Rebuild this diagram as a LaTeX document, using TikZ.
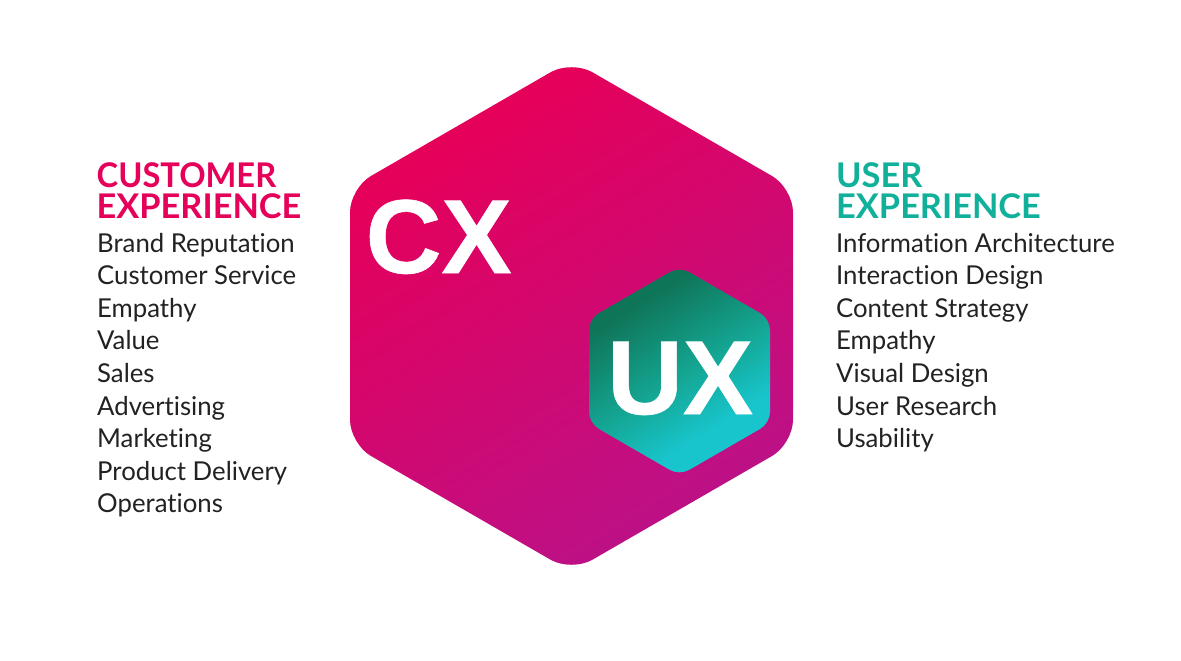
\documentclass[tikz,border=0pt]{standalone}
\usepackage{fontspec}
\setmainfont{Lato}
\newfontfamily\logofont{Liberation Sans}[BoldFeatures={FakeBold=0.6}]
\newfontfamily\bodyfont{Lato}[Ligatures=NoCommon,FakeStretch=0.99]
\newfontfamily\headfont{Lato}[Ligatures=NoCommon,FakeStretch=1.01]
\newfontfamily\headnarrowfont{Lato}[Ligatures=NoCommon,FakeStretch=0.96]
\definecolor{cxpink}{HTML}{E5005A}
\definecolor{cxpurple}{HTML}{B9128A}
\definecolor{uxteal}{HTML}{10B09B}
\definecolor{bodyink}{HTML}{222222}
\pgfdeclarehorizontalshading{cxshade}{100bp}{color(0bp)=(cxpink);color(28bp)=(cxpink);color(77bp)=(cxpurple);color(100bp)=(cxpurple)}
\definecolor{uxdark}{HTML}{0F7558}
\definecolor{uxmid}{HTML}{14A592}
\definecolor{uxbright}{HTML}{18C5CC}
\definecolor{uxsliver}{HTML}{18A98F}
\pgfdeclarehorizontalshading{uxshade}{100bp}{color(0bp)=(uxdark);color(30bp)=(uxdark);color(51bp)=(uxmid);color(67bp)=(uxbright);color(100bp)=(uxbright)}
\tikzset{
  head/.style={anchor=base west,inner sep=0pt,font=\headfont\bfseries\fontsize{34}{34}\selectfont},
  headnarrow/.style={head,font=\headnarrowfont\bfseries\fontsize{34}{34}\selectfont},
  body/.style={anchor=base west,inner sep=0pt,text=bodyink,font=\bodyfont\fontsize{26}{26}\selectfont},
  logo/.style={anchor=base west,inner sep=0pt,text=white,font=\logofont\bfseries\fontsize{105}{105}\selectfont}
}
\begin{document}
\begin{tikzpicture}[x=1pt,y=-1pt]
\useasboundingbox (0,0) rectangle (1181,661);
\fill[white] (0,0) rectangle (1181,661);
% big hexagon
\path[shading=cxshade,shading angle=-58,rounded corners=24pt]
  (571.5,60.2) -- (793,188.1) -- (793,443.9) -- (571.5,571.8) -- (350,443.9) -- (350,188.1) -- cycle;
% small hexagon
\path[shading=uxshade,shading angle=-58,rounded corners=11pt]
  (679.5,266.5) -- (770,318.8) -- (770,423.2) -- (679.5,475.5) -- (589,423.2) -- (589,318.8) -- cycle;
\begin{scope}
\clip[rounded corners=11pt]
  (679.5,266.5) -- (770,318.8) -- (770,423.2) -- (679.5,475.5) -- (589,423.2) -- (589,318.8) -- cycle;
\fill[uxsliver] (660,471.5) rectangle (700,476);
\end{scope}
\node[logo] (cx) at (365.5,273) {CX};
\node[logo] (ux) at (607,414) {UX};
% left column
\node[headnarrow,text=cxpink] (c1) at (96.5,187) {CUSTOMER};
\node[head,text=cxpink] (c2) at (96.5,218) {EXPERIENCE};
\node[body] (l1) at (97,252) {Brand Reputation};
\node[body] (l2) at (97,284.5) {Customer Service};
\node[body] (l3) at (97,317) {Empathy};
\node[body] (l4) at (97,349.5) {Value};
\node[body] (l5) at (97,382) {Sales};
\node[body] (l6) at (97,415) {Advertising};
\node[body] (l7) at (97,447) {Marketing};
\node[body] (l8) at (97,480) {Product Delivery};
\node[body] (l9) at (97,512) {Operations};
% right column
\node[head,text=uxteal] (u1) at (836,187) {USER};
\node[head,text=uxteal] (u2) at (836,218) {EXPERIENCE};
\node[body] (r1) at (836,252) {Information Architecture};
\node[body] (r2) at (836,284.5) {Interaction Design};
\node[body] (r3) at (836,317) {Content Strategy};
\node[body] (r4) at (836,349.5) {Empathy};
\node[body] (r5) at (836,382) {Visual Design};
\node[body] (r6) at (836,415) {User Research};
\node[body] (r7) at (836,447) {Usability};
\end{tikzpicture}
\end{document}
